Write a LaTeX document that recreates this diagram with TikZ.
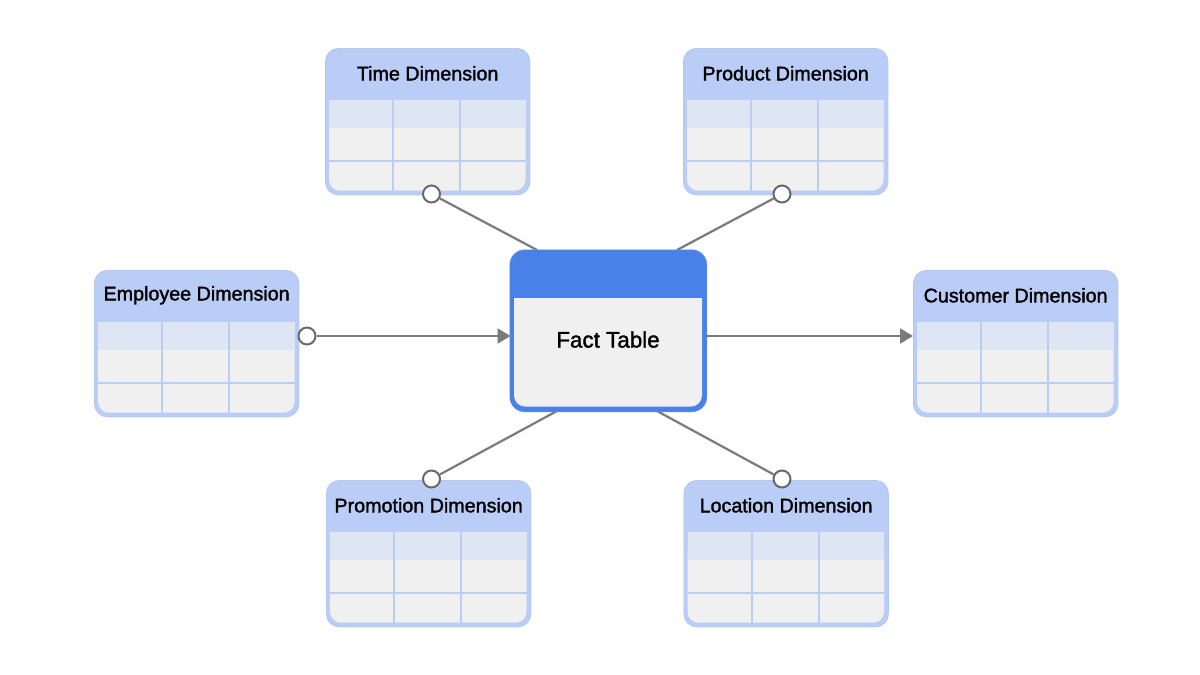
\documentclass[tikz,border=0pt]{standalone}
\usepackage{fontspec}
\setmainfont{Liberation Sans}
\newfontfamily\lblfont[FakeBold=1.6]{Liberation Sans}
\usetikzlibrary{arrows.meta,calc}
\definecolor{hdr}{HTML}{B9CDF6}
\definecolor{rowa}{HTML}{DEE5F3}
\definecolor{rowb}{HTML}{F0F0F0}
\definecolor{gridc}{HTML}{BACDF2}
\definecolor{factblue}{HTML}{4A81E8}
\definecolor{conn}{HTML}{7B7B7B}
\tikzset{
  x=1pt,y=-1pt,
  dimbox/.style={fill=hdr,draw=hdr!97!black,line width=0.8pt,rounded corners=13pt,minimum width=204.5pt,minimum height=146.5pt,inner sep=0pt,anchor=north west},
  dimlabel/.style={font=\lblfont\fontsize{19.7}{22}\selectfont,text=black,inner sep=0pt},
  gridline/.style={draw=gridc,line width=2pt},
  factbox/.style={fill=factblue,draw=factblue!85!white,line width=0.6pt,rounded corners=15pt,minimum width=197pt,minimum height=162pt,inner sep=0pt,anchor=north west},
  factlabel/.style={font=\lblfont\fontsize{22.4}{25}\selectfont,text=black,inner sep=0pt},
  port/.style={circle,draw=conn!85!black,fill=white,line width=2pt,minimum size=17pt,inner sep=0pt},
  link/.style={draw=conn,line width=2.2pt},
  linkarrow/.style={link,-{Triangle[length=13pt,width=15pt,fill=conn]}}
}
\newcommand{\dimtable}[5]{%
  \node[dimbox] (#1) at (#2,#3) {};
  \begin{scope}[shift={(#2,#3)}]
    \fill[rowb,rounded corners=11pt] (4,60) -- (4,142.7) -- (200.5,142.7) -- (200.5,60) -- cycle;
    \fill[rowa] (4,52) rectangle (200.5,80);
    \draw[gridline] (4,113) -- (200.5,113);
    \draw[gridline] (#5+68,52) -- (#5+68,142.7);
    \draw[gridline] (#5+135,52) -- (#5+135,142.7);
  \end{scope}
  \node[dimlabel] (#1label) at ($(#1.north)+(0,25.3)$) {#4};
}
\begin{document}
\begin{tikzpicture}
\useasboundingbox (0,0) rectangle (1200,675);
\fill[white] (0,0) rectangle (1200,675);
% tables
\dimtable{time}{325}{48}{Time Dimension}{0}
\dimtable{product}{683}{48}{Product Dimension}{0}
\dimtable{employee}{94}{270}{Employee Dimension}{0}
\dimtable{customer}{913}{270}{Customer Dimension}{0}
\dimtable{promotion}{326}{480}{Promotion Dimension}{0}
\dimtable{location}{683.5}{480}{Location Dimension}{0.5}
% connector ends
\coordinate (ftime) at (537,250);
\coordinate (fproduct) at (677,250);
\coordinate (femployee) at (510.5,336);
\coordinate (fcustomer) at (706,336);
\coordinate (fpromotion) at (557,411);
\coordinate (flocation) at (657,411);
\coordinate (ccustomer) at (913,336);
% ports
\node[port] (ptime) at (431.5,194) {};
\node[port] (pproduct) at (782,194) {};
\node[port] (pemployee) at (307,336) {};
\node[port] (ppromotion) at (431.5,479) {};
\node[port] (plocation) at (782,479) {};
% connectors
\draw[link] (ptime) -- (ftime);
\draw[link] (pproduct) -- (fproduct);
\draw[link] (ppromotion) -- (fpromotion);
\draw[link] (plocation) -- (flocation);
\draw[linkarrow] (pemployee) -- (femployee);
\draw[linkarrow] (fcustomer) -- (ccustomer);
% fact table
\node[factbox] (fact) at (509.5,249.5) {};
\fill[rowb,rounded corners=11pt] (514,285) -- (514,406.5) -- (702,406.5) -- (702,285) -- cycle;
\fill[factblue] (512,278) rectangle (704,298);
\node[factlabel] (factlabel) at (608,339.5) {Fact Table};
\end{tikzpicture}
\end{document}
